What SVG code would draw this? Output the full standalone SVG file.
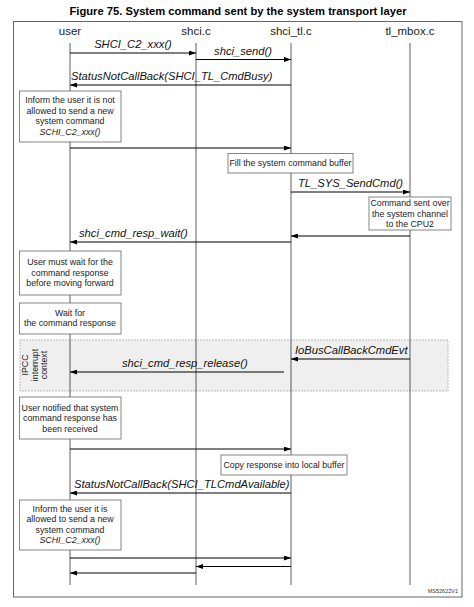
<svg xmlns="http://www.w3.org/2000/svg" width="474" height="607" viewBox="0 0 474 607">
<defs>
<marker id="ah" markerWidth="7" markerHeight="5" refX="7" refY="2.5" orient="auto" markerUnits="userSpaceOnUse">
<path d="M0,0 L7,2.5 L0,5 Z" fill="#000"/>
</marker>
<style>
.title{font-family:"Liberation Sans",Arial,sans-serif;font-size:11.2px;font-weight:bold;fill:#000}
.hdr{font-family:"Liberation Sans",Arial,sans-serif;font-size:11.5px;fill:#222;text-anchor:middle}
.lbl{font-family:"Liberation Sans",Arial,sans-serif;font-size:11.2px;font-style:italic;fill:#111}
.box{fill:#fff;stroke:#666;stroke-width:0.8}
.bt{font-family:"Liberation Sans",Arial,sans-serif;font-size:8.8px;fill:#222;text-anchor:middle}
.it{font-style:italic}
.life{stroke:#333;stroke-width:0.8;fill:none}
.msg{stroke:#000;stroke-width:1;fill:none;marker-end:url(#ah)}
</style>
</defs>
<rect width="474" height="607" fill="#fff"/>
<text class="title" x="238" y="15" text-anchor="middle">Figure 75. System command sent by the system transport layer</text>
<rect x="13.5" y="21.5" width="448.5" height="575.5" fill="none" stroke="#666" stroke-width="1"/>

<g id="ipcc-band">
<rect x="20" y="340" width="428" height="51" fill="#efefef" stroke="#aaa" stroke-width="0.8" stroke-dasharray="2,1"/>
<text class="bt" transform="translate(35,365) rotate(-90)"><tspan x="0" y="-7">IPCC</tspan><tspan x="0" y="2.5">interrupt</tspan><tspan x="0" y="12">context</tspan></text>
</g>

<g id="lifelines">
<g id="user"><text class="hdr" x="70" y="35">user</text><line class="life" x1="70" y1="43" x2="70" y2="585"/></g>
<g id="shci_c"><text class="hdr" x="196" y="35">shci.c</text><line class="life" x1="196" y1="43" x2="196" y2="585"/></g>
<g id="shci_tl_c"><text class="hdr" x="291" y="35">shci_tl.c</text><line class="life" x1="291" y1="43" x2="291" y2="585"/></g>
<g id="tl_mbox_c"><text class="hdr" x="410" y="35">tl_mbox.c</text><line class="life" x1="410" y1="43" x2="410" y2="585"/></g>
</g>

<g id="connectors">
<line class="msg" x1="70" y1="53" x2="196" y2="53"/>
<text class="lbl" x="133" y="48" text-anchor="middle">SHCI_C2_xxx()</text>
<line class="msg" x1="196" y1="59.5" x2="291" y2="59.5"/>
<text class="lbl" x="243" y="55" text-anchor="middle">shci_send()</text>
<line class="msg" x1="291" y1="85" x2="70" y2="85"/>
<text class="lbl" x="71" y="80">StatusNotCallBack(SHCI_TL_CmdBusy)</text>
<line class="msg" x1="70" y1="148" x2="291" y2="148"/>
<line class="msg" x1="291" y1="192" x2="410" y2="192"/>
<text class="lbl" x="298" y="187">TL_SYS_SendCmd()</text>
<line class="msg" x1="410" y1="236" x2="291" y2="236"/>
<line class="msg" x1="291" y1="242" x2="70" y2="242"/>
<text class="lbl" x="79" y="237">shci_cmd_resp_wait()</text>
<line class="msg" x1="410" y1="359" x2="291" y2="359"/>
<text class="lbl" x="295" y="354">IoBusCallBackCmdEvt</text>
<line class="msg" x1="284" y1="372" x2="70" y2="372"/>
<text class="lbl" x="122" y="367">shci_cmd_resp_release()</text>
<line class="msg" x1="70" y1="449" x2="291" y2="449"/>
<line class="msg" x1="291" y1="493" x2="70" y2="493"/>
<text class="lbl" x="74" y="488">StatusNotCallBack(SHCI_TLCmdAvailable)</text>
<line class="msg" x1="70" y1="558" x2="291" y2="558"/>
<line class="msg" x1="291" y1="566.5" x2="196" y2="566.5"/>
<line class="msg" x1="196" y1="573" x2="70" y2="573"/>
</g>

<g id="box-busy">
<rect class="box" x="19.5" y="91" width="101.5" height="51"/>
<text class="bt"><tspan x="70" y="103">Inform the user it is not</tspan><tspan x="70" y="113.5">allowed to send a new</tspan><tspan x="70" y="124">system command</tspan><tspan class="it" x="70" y="134.5">SCHI_C2_xxx()</tspan></text>
</g>
<g id="box-fill">
<rect class="box" x="228" y="153.5" width="125" height="19.5"/>
<text class="bt" x="290.5" y="166">Fill the system command buffer</text>
</g>
<g id="box-sent">
<rect class="box" x="369" y="197" width="82" height="33"/>
<text class="bt"><tspan x="410" y="206">Command sent over</tspan><tspan x="410" y="216.5">the system channel</tspan><tspan x="410" y="227">to the CPU2</tspan></text>
</g>
<g id="box-mustwait">
<rect class="box" x="19.5" y="251" width="101.5" height="44"/>
<text class="bt"><tspan x="70" y="265">User must wait for the</tspan><tspan x="70" y="275.5">command response</tspan><tspan x="70" y="286">before moving forward</tspan></text>
</g>
<g id="box-wait">
<rect class="box" x="19.5" y="303" width="101.5" height="31"/>
<text class="bt"><tspan x="70" y="315.5">Wait for</tspan><tspan x="70" y="326">the command response</tspan></text>
</g>
<g id="box-notified">
<rect class="box" x="19.5" y="397" width="101.5" height="42"/>
<text class="bt"><tspan x="70" y="410.5">User notified that system</tspan><tspan x="70" y="421">command response has</tspan><tspan x="70" y="431.5">been received</tspan></text>
</g>
<g id="box-copy">
<rect class="box" x="221" y="455" width="126" height="20"/>
<text class="bt" x="284" y="468">Copy response into local buffer</text>
</g>
<g id="box-allowed">
<rect class="box" x="19.5" y="500" width="101.5" height="50"/>
<text class="bt"><tspan x="70" y="511.5">Inform the user it is</tspan><tspan x="70" y="522">allowed to send a new</tspan><tspan x="70" y="532.5">system command</tspan><tspan class="it" x="70" y="543">SCHI_C2_xxx()</tspan></text>
</g>
<text x="458" y="593" font-family="'Liberation Sans',Arial,sans-serif" font-size="5.5" fill="#333" text-anchor="end">MS52622V1</text>
</svg>
